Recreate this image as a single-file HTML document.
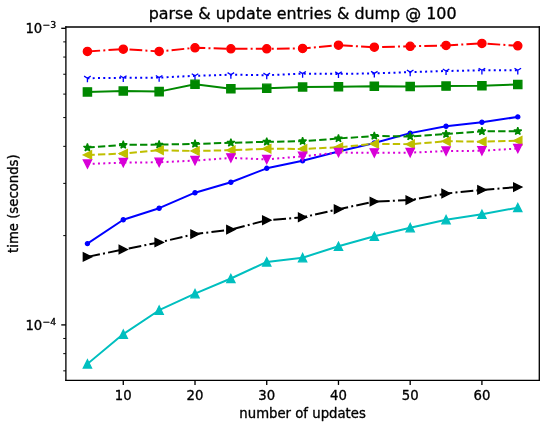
<!DOCTYPE html>
<html><head><meta charset="utf-8"><title>parse &amp; update entries &amp; dump @ 100</title>
<style>html,body{margin:0;padding:0;background:#fff;width:550px;height:429px;overflow:hidden}
svg text{stroke:#000;stroke-width:.25px;stroke-linejoin:round}</style>
</head><body>
<svg width="550" height="429" viewBox="0 0 414.66 323.43" style="display:block;stroke-linejoin:round;stroke-linecap:butt">
<g id="figure_1">
<g id="patch_1">
<path d="M 0 323.43
L 414.66 323.43
L 414.66 0
L 0 0
z
" style="fill: #ffffff"/>
</g>
<g id="axes_1">
<g id="patch_2">
<path d="M 49.68 286.72
L 406.59 286.72
L 406.59 20.36
L 49.68 20.36
z
" style="fill: #ffffff"/>
</g>
<g id="matplotlib.axis_1">
<g id="xtick_1">
<g id="line2d_1">
<g>
<path d="M 0 0 L 0 3.5" transform="translate(92.94 286.72)" style="stroke: #000000"/>
</g>
</g>
<g id="text_1">
<text style="font-size: 10px; font-family: 'DejaVu Sans', 'Liberation Sans', sans-serif; text-anchor: middle" x="92.95" y="301.82" transform="rotate(-0 92.95 301.82)">10</text>
</g>
</g>
<g id="xtick_2">
<g id="line2d_2">
<g>
<path d="M 0 0 L 0 3.5" transform="translate(147.02 286.72)" style="stroke: #000000"/>
</g>
</g>
<g id="text_2">
<text style="font-size: 10px; font-family: 'DejaVu Sans', 'Liberation Sans', sans-serif; text-anchor: middle" x="147.02" y="301.82" transform="rotate(-0 147.02 301.82)">20</text>
</g>
</g>
<g id="xtick_3">
<g id="line2d_3">
<g>
<path d="M 0 0 L 0 3.5" transform="translate(201.1 286.72)" style="stroke: #000000"/>
</g>
</g>
<g id="text_3">
<text style="font-size: 10px; font-family: 'DejaVu Sans', 'Liberation Sans', sans-serif; text-anchor: middle" x="201.1" y="301.82" transform="rotate(-0 201.1 301.82)">30</text>
</g>
</g>
<g id="xtick_4">
<g id="line2d_4">
<g>
<path d="M 0 0 L 0 3.5" transform="translate(255.18 286.72)" style="stroke: #000000"/>
</g>
</g>
<g id="text_4">
<text style="font-size: 10px; font-family: 'DejaVu Sans', 'Liberation Sans', sans-serif; text-anchor: middle" x="255.18" y="301.82" transform="rotate(-0 255.18 301.82)">40</text>
</g>
</g>
<g id="xtick_5">
<g id="line2d_5">
<g>
<path d="M 0 0 L 0 3.5" transform="translate(309.25 286.72)" style="stroke: #000000"/>
</g>
</g>
<g id="text_5">
<text style="font-size: 10px; font-family: 'DejaVu Sans', 'Liberation Sans', sans-serif; text-anchor: middle" x="309.25" y="301.82" transform="rotate(-0 309.25 301.82)">50</text>
</g>
</g>
<g id="xtick_6">
<g id="line2d_6">
<g>
<path d="M 0 0 L 0 3.5" transform="translate(363.33 286.72)" style="stroke: #000000"/>
</g>
</g>
<g id="text_6">
<text style="font-size: 10px; font-family: 'DejaVu Sans', 'Liberation Sans', sans-serif; text-anchor: middle" x="363.33" y="301.82" transform="rotate(-0 363.33 301.82)">60</text>
</g>
</g>
<g id="text_7">
<text style="font-size: 10px; font-family: 'DejaVu Sans', 'Liberation Sans', sans-serif; text-anchor: middle" x="228.14" y="315.49" transform="rotate(-0 228.14 315.49)">number of updates</text>
</g>
</g>
<g id="matplotlib.axis_2">
<g id="ytick_1">
<g id="line2d_7">
<g>
<path d="M 0 0 L -3.5 0" transform="translate(49.68 244.95)" style="stroke: #000000"/>
</g>
</g>
<g id="text_8">
<!-- $\mathdefault{10^{-4}}$ -->
<g transform="translate(19.18 248.75)">
<text>
<tspan x="0" y="-0.06" style="font-size: 10px; font-family: 'DejaVu Sans', 'Liberation Sans', sans-serif">1</tspan>
<tspan x="6.36" y="-0.06" style="font-size: 10px; font-family: 'DejaVu Sans', 'Liberation Sans', sans-serif">0</tspan>
<tspan x="12.82" y="-3.89" style="font-size: 7px; font-family: 'DejaVu Sans', 'Liberation Sans', sans-serif">−</tspan>
<tspan x="18.69" y="-3.89" style="font-size: 7px; font-family: 'DejaVu Sans', 'Liberation Sans', sans-serif">4</tspan>
</text>
</g>
</g>
</g>
<g id="ytick_2">
<g id="line2d_8">
<g>
<path d="M 0 0 L -3.5 0" transform="translate(49.68 21.34)" style="stroke: #000000"/>
</g>
</g>
<g id="text_9">
<!-- $\mathdefault{10^{-3}}$ -->
<g transform="translate(19.18 25.14)">
<text>
<tspan x="0" y="-0.06" style="font-size: 10px; font-family: 'DejaVu Sans', 'Liberation Sans', sans-serif">1</tspan>
<tspan x="6.36" y="-0.06" style="font-size: 10px; font-family: 'DejaVu Sans', 'Liberation Sans', sans-serif">0</tspan>
<tspan x="12.82" y="-3.89" style="font-size: 7px; font-family: 'DejaVu Sans', 'Liberation Sans', sans-serif">−</tspan>
<tspan x="18.69" y="-3.89" style="font-size: 7px; font-family: 'DejaVu Sans', 'Liberation Sans', sans-serif">3</tspan>
</text>
</g>
</g>
</g>
<g id="ytick_3">
<g id="line2d_9">
<g>
<path d="M 0 0 L -2 0" transform="translate(49.68 279.59)" style="stroke: #000000; stroke-width: 0.75"/>
</g>
</g>
</g>
<g id="ytick_4">
<g id="line2d_10">
<g>
<path d="M 0 0 L -2 0" transform="translate(49.68 266.62)" style="stroke: #000000; stroke-width: 0.75"/>
</g>
</g>
</g>
<g id="ytick_5">
<g id="line2d_11">
<g>
<path d="M 0 0 L -2 0" transform="translate(49.68 255.18)" style="stroke: #000000; stroke-width: 0.75"/>
</g>
</g>
</g>
<g id="ytick_6">
<g id="line2d_12">
<g>
<path d="M 0 0 L -2 0" transform="translate(49.68 177.64)" style="stroke: #000000; stroke-width: 0.75"/>
</g>
</g>
</g>
<g id="ytick_7">
<g id="line2d_13">
<g>
<path d="M 0 0 L -2 0" transform="translate(49.68 138.26)" style="stroke: #000000; stroke-width: 0.75"/>
</g>
</g>
</g>
<g id="ytick_8">
<g id="line2d_14">
<g>
<path d="M 0 0 L -2 0" transform="translate(49.68 110.32)" style="stroke: #000000; stroke-width: 0.75"/>
</g>
</g>
</g>
<g id="ytick_9">
<g id="line2d_15">
<g>
<path d="M 0 0 L -2 0" transform="translate(49.68 88.65)" style="stroke: #000000; stroke-width: 0.75"/>
</g>
</g>
</g>
<g id="ytick_10">
<g id="line2d_16">
<g>
<path d="M 0 0 L -2 0" transform="translate(49.68 70.94)" style="stroke: #000000; stroke-width: 0.75"/>
</g>
</g>
</g>
<g id="ytick_11">
<g id="line2d_17">
<g>
<path d="M 0 0 L -2 0" transform="translate(49.68 55.97)" style="stroke: #000000; stroke-width: 0.75"/>
</g>
</g>
</g>
<g id="ytick_12">
<g id="line2d_18">
<g>
<path d="M 0 0 L -2 0" transform="translate(49.68 43.01)" style="stroke: #000000; stroke-width: 0.75"/>
</g>
</g>
</g>
<g id="ytick_13">
<g id="line2d_19">
<g>
<path d="M 0 0 L -2 0" transform="translate(49.68 31.57)" style="stroke: #000000; stroke-width: 0.75"/>
</g>
</g>
</g>
<g id="text_10">
<text style="font-size: 10px; font-family: 'DejaVu Sans', 'Liberation Sans', sans-serif; text-anchor: middle" x="13.3" y="153.54" transform="rotate(-90 13.3 153.54)">time (seconds)</text>
</g>
</g>
<g id="line2d_20">
<path d="M 65.91 183.66
L 92.95 165.64
L 119.98 156.97
L 147.02 145.28
L 174.06 137.37
L 201.1 126.89
L 228.14 121.23
L 255.18 114.22
L 282.22 107.81
L 309.25 100.35
L 336.29 95.22
L 363.33 92.21
L 390.37 88.13
" clip-path="url(#p1bebfb066a)" style="fill: none; stroke: #0000ff; stroke-width: 1.5; stroke-linecap: square"/>
<g clip-path="url(#p1bebfb066a)">
<path d="M 0 1.55 C 0.41 1.55 0.81 1.39 1.1 1.1 C 1.39 0.81 1.55 0.41 1.55 0 C 1.55 -0.41 1.39 -0.81 1.1 -1.1 C 0.81 -1.39 0.41 -1.55 0 -1.55 C -0.41 -1.55 -0.81 -1.39 -1.1 -1.1 C -1.39 -0.81 -1.55 -0.41 -1.55 0 C -1.55 0.41 -1.39 0.81 -1.1 1.1 C -0.81 1.39 -0.41 1.55 0 1.55 z" transform="translate(65.91 183.66)" style="fill: #0000ff; stroke: #0000ff"/>
<path d="M 0 1.55 C 0.41 1.55 0.81 1.39 1.1 1.1 C 1.39 0.81 1.55 0.41 1.55 0 C 1.55 -0.41 1.39 -0.81 1.1 -1.1 C 0.81 -1.39 0.41 -1.55 0 -1.55 C -0.41 -1.55 -0.81 -1.39 -1.1 -1.1 C -1.39 -0.81 -1.55 -0.41 -1.55 0 C -1.55 0.41 -1.39 0.81 -1.1 1.1 C -0.81 1.39 -0.41 1.55 0 1.55 z" transform="translate(92.94 165.64)" style="fill: #0000ff; stroke: #0000ff"/>
<path d="M 0 1.55 C 0.41 1.55 0.81 1.39 1.1 1.1 C 1.39 0.81 1.55 0.41 1.55 0 C 1.55 -0.41 1.39 -0.81 1.1 -1.1 C 0.81 -1.39 0.41 -1.55 0 -1.55 C -0.41 -1.55 -0.81 -1.39 -1.1 -1.1 C -1.39 -0.81 -1.55 -0.41 -1.55 0 C -1.55 0.41 -1.39 0.81 -1.1 1.1 C -0.81 1.39 -0.41 1.55 0 1.55 z" transform="translate(119.98 156.97)" style="fill: #0000ff; stroke: #0000ff"/>
<path d="M 0 1.55 C 0.41 1.55 0.81 1.39 1.1 1.1 C 1.39 0.81 1.55 0.41 1.55 0 C 1.55 -0.41 1.39 -0.81 1.1 -1.1 C 0.81 -1.39 0.41 -1.55 0 -1.55 C -0.41 -1.55 -0.81 -1.39 -1.1 -1.1 C -1.39 -0.81 -1.55 -0.41 -1.55 0 C -1.55 0.41 -1.39 0.81 -1.1 1.1 C -0.81 1.39 -0.41 1.55 0 1.55 z" transform="translate(147.02 145.28)" style="fill: #0000ff; stroke: #0000ff"/>
<path d="M 0 1.55 C 0.41 1.55 0.81 1.39 1.1 1.1 C 1.39 0.81 1.55 0.41 1.55 0 C 1.55 -0.41 1.39 -0.81 1.1 -1.1 C 0.81 -1.39 0.41 -1.55 0 -1.55 C -0.41 -1.55 -0.81 -1.39 -1.1 -1.1 C -1.39 -0.81 -1.55 -0.41 -1.55 0 C -1.55 0.41 -1.39 0.81 -1.1 1.1 C -0.81 1.39 -0.41 1.55 0 1.55 z" transform="translate(174.06 137.37)" style="fill: #0000ff; stroke: #0000ff"/>
<path d="M 0 1.55 C 0.41 1.55 0.81 1.39 1.1 1.1 C 1.39 0.81 1.55 0.41 1.55 0 C 1.55 -0.41 1.39 -0.81 1.1 -1.1 C 0.81 -1.39 0.41 -1.55 0 -1.55 C -0.41 -1.55 -0.81 -1.39 -1.1 -1.1 C -1.39 -0.81 -1.55 -0.41 -1.55 0 C -1.55 0.41 -1.39 0.81 -1.1 1.1 C -0.81 1.39 -0.41 1.55 0 1.55 z" transform="translate(201.1 126.89)" style="fill: #0000ff; stroke: #0000ff"/>
<path d="M 0 1.55 C 0.41 1.55 0.81 1.39 1.1 1.1 C 1.39 0.81 1.55 0.41 1.55 0 C 1.55 -0.41 1.39 -0.81 1.1 -1.1 C 0.81 -1.39 0.41 -1.55 0 -1.55 C -0.41 -1.55 -0.81 -1.39 -1.1 -1.1 C -1.39 -0.81 -1.55 -0.41 -1.55 0 C -1.55 0.41 -1.39 0.81 -1.1 1.1 C -0.81 1.39 -0.41 1.55 0 1.55 z" transform="translate(228.14 121.23)" style="fill: #0000ff; stroke: #0000ff"/>
<path d="M 0 1.55 C 0.41 1.55 0.81 1.39 1.1 1.1 C 1.39 0.81 1.55 0.41 1.55 0 C 1.55 -0.41 1.39 -0.81 1.1 -1.1 C 0.81 -1.39 0.41 -1.55 0 -1.55 C -0.41 -1.55 -0.81 -1.39 -1.1 -1.1 C -1.39 -0.81 -1.55 -0.41 -1.55 0 C -1.55 0.41 -1.39 0.81 -1.1 1.1 C -0.81 1.39 -0.41 1.55 0 1.55 z" transform="translate(255.18 114.22)" style="fill: #0000ff; stroke: #0000ff"/>
<path d="M 0 1.55 C 0.41 1.55 0.81 1.39 1.1 1.1 C 1.39 0.81 1.55 0.41 1.55 0 C 1.55 -0.41 1.39 -0.81 1.1 -1.1 C 0.81 -1.39 0.41 -1.55 0 -1.55 C -0.41 -1.55 -0.81 -1.39 -1.1 -1.1 C -1.39 -0.81 -1.55 -0.41 -1.55 0 C -1.55 0.41 -1.39 0.81 -1.1 1.1 C -0.81 1.39 -0.41 1.55 0 1.55 z" transform="translate(282.21 107.81)" style="fill: #0000ff; stroke: #0000ff"/>
<path d="M 0 1.55 C 0.41 1.55 0.81 1.39 1.1 1.1 C 1.39 0.81 1.55 0.41 1.55 0 C 1.55 -0.41 1.39 -0.81 1.1 -1.1 C 0.81 -1.39 0.41 -1.55 0 -1.55 C -0.41 -1.55 -0.81 -1.39 -1.1 -1.1 C -1.39 -0.81 -1.55 -0.41 -1.55 0 C -1.55 0.41 -1.39 0.81 -1.1 1.1 C -0.81 1.39 -0.41 1.55 0 1.55 z" transform="translate(309.25 100.35)" style="fill: #0000ff; stroke: #0000ff"/>
<path d="M 0 1.55 C 0.41 1.55 0.81 1.39 1.1 1.1 C 1.39 0.81 1.55 0.41 1.55 0 C 1.55 -0.41 1.39 -0.81 1.1 -1.1 C 0.81 -1.39 0.41 -1.55 0 -1.55 C -0.41 -1.55 -0.81 -1.39 -1.1 -1.1 C -1.39 -0.81 -1.55 -0.41 -1.55 0 C -1.55 0.41 -1.39 0.81 -1.1 1.1 C -0.81 1.39 -0.41 1.55 0 1.55 z" transform="translate(336.29 95.22)" style="fill: #0000ff; stroke: #0000ff"/>
<path d="M 0 1.55 C 0.41 1.55 0.81 1.39 1.1 1.1 C 1.39 0.81 1.55 0.41 1.55 0 C 1.55 -0.41 1.39 -0.81 1.1 -1.1 C 0.81 -1.39 0.41 -1.55 0 -1.55 C -0.41 -1.55 -0.81 -1.39 -1.1 -1.1 C -1.39 -0.81 -1.55 -0.41 -1.55 0 C -1.55 0.41 -1.39 0.81 -1.1 1.1 C -0.81 1.39 -0.41 1.55 0 1.55 z" transform="translate(363.33 92.2)" style="fill: #0000ff; stroke: #0000ff"/>
<path d="M 0 1.55 C 0.41 1.55 0.81 1.39 1.1 1.1 C 1.39 0.81 1.55 0.41 1.55 0 C 1.55 -0.41 1.39 -0.81 1.1 -1.1 C 0.81 -1.39 0.41 -1.55 0 -1.55 C -0.41 -1.55 -0.81 -1.39 -1.1 -1.1 C -1.39 -0.81 -1.55 -0.41 -1.55 0 C -1.55 0.41 -1.39 0.81 -1.1 1.1 C -0.81 1.39 -0.41 1.55 0 1.55 z" transform="translate(390.37 88.13)" style="fill: #0000ff; stroke: #0000ff"/>
</g>
</g>
<g id="line2d_21">
<path d="M 65.91 38.75
L 92.95 37.09
L 119.98 38.75
L 147.02 36.04
L 174.06 36.79
L 201.1 36.79
L 228.14 36.57
L 255.18 34.08
L 282.22 35.59
L 309.25 34.91
L 336.29 34.3
L 363.33 32.72
L 390.37 34.53
" clip-path="url(#p1bebfb066a)" style="fill: none; stroke-dasharray: 9.6,2.4,1.5,2.4; stroke-dashoffset: 0; stroke: #ff0000; stroke-width: 1.5"/>
<g clip-path="url(#p1bebfb066a)">
<path d="M 0 3.1 C 0.82 3.1 1.61 2.77 2.19 2.19 C 2.77 1.61 3.1 0.82 3.1 0 C 3.1 -0.82 2.77 -1.61 2.19 -2.19 C 1.61 -2.77 0.82 -3.1 0 -3.1 C -0.82 -3.1 -1.61 -2.77 -2.19 -2.19 C -2.77 -1.61 -3.1 -0.82 -3.1 0 C -3.1 0.82 -2.77 1.61 -2.19 2.19 C -1.61 2.77 -0.82 3.1 0 3.1 z" transform="translate(65.91 38.75)" style="fill: #ff0000; stroke: #ff0000"/>
<path d="M 0 3.1 C 0.82 3.1 1.61 2.77 2.19 2.19 C 2.77 1.61 3.1 0.82 3.1 0 C 3.1 -0.82 2.77 -1.61 2.19 -2.19 C 1.61 -2.77 0.82 -3.1 0 -3.1 C -0.82 -3.1 -1.61 -2.77 -2.19 -2.19 C -2.77 -1.61 -3.1 -0.82 -3.1 0 C -3.1 0.82 -2.77 1.61 -2.19 2.19 C -1.61 2.77 -0.82 3.1 0 3.1 z" transform="translate(92.94 37.09)" style="fill: #ff0000; stroke: #ff0000"/>
<path d="M 0 3.1 C 0.82 3.1 1.61 2.77 2.19 2.19 C 2.77 1.61 3.1 0.82 3.1 0 C 3.1 -0.82 2.77 -1.61 2.19 -2.19 C 1.61 -2.77 0.82 -3.1 0 -3.1 C -0.82 -3.1 -1.61 -2.77 -2.19 -2.19 C -2.77 -1.61 -3.1 -0.82 -3.1 0 C -3.1 0.82 -2.77 1.61 -2.19 2.19 C -1.61 2.77 -0.82 3.1 0 3.1 z" transform="translate(119.98 38.75)" style="fill: #ff0000; stroke: #ff0000"/>
<path d="M 0 3.1 C 0.82 3.1 1.61 2.77 2.19 2.19 C 2.77 1.61 3.1 0.82 3.1 0 C 3.1 -0.82 2.77 -1.61 2.19 -2.19 C 1.61 -2.77 0.82 -3.1 0 -3.1 C -0.82 -3.1 -1.61 -2.77 -2.19 -2.19 C -2.77 -1.61 -3.1 -0.82 -3.1 0 C -3.1 0.82 -2.77 1.61 -2.19 2.19 C -1.61 2.77 -0.82 3.1 0 3.1 z" transform="translate(147.02 36.04)" style="fill: #ff0000; stroke: #ff0000"/>
<path d="M 0 3.1 C 0.82 3.1 1.61 2.77 2.19 2.19 C 2.77 1.61 3.1 0.82 3.1 0 C 3.1 -0.82 2.77 -1.61 2.19 -2.19 C 1.61 -2.77 0.82 -3.1 0 -3.1 C -0.82 -3.1 -1.61 -2.77 -2.19 -2.19 C -2.77 -1.61 -3.1 -0.82 -3.1 0 C -3.1 0.82 -2.77 1.61 -2.19 2.19 C -1.61 2.77 -0.82 3.1 0 3.1 z" transform="translate(174.06 36.79)" style="fill: #ff0000; stroke: #ff0000"/>
<path d="M 0 3.1 C 0.82 3.1 1.61 2.77 2.19 2.19 C 2.77 1.61 3.1 0.82 3.1 0 C 3.1 -0.82 2.77 -1.61 2.19 -2.19 C 1.61 -2.77 0.82 -3.1 0 -3.1 C -0.82 -3.1 -1.61 -2.77 -2.19 -2.19 C -2.77 -1.61 -3.1 -0.82 -3.1 0 C -3.1 0.82 -2.77 1.61 -2.19 2.19 C -1.61 2.77 -0.82 3.1 0 3.1 z" transform="translate(201.1 36.79)" style="fill: #ff0000; stroke: #ff0000"/>
<path d="M 0 3.1 C 0.82 3.1 1.61 2.77 2.19 2.19 C 2.77 1.61 3.1 0.82 3.1 0 C 3.1 -0.82 2.77 -1.61 2.19 -2.19 C 1.61 -2.77 0.82 -3.1 0 -3.1 C -0.82 -3.1 -1.61 -2.77 -2.19 -2.19 C -2.77 -1.61 -3.1 -0.82 -3.1 0 C -3.1 0.82 -2.77 1.61 -2.19 2.19 C -1.61 2.77 -0.82 3.1 0 3.1 z" transform="translate(228.14 36.56)" style="fill: #ff0000; stroke: #ff0000"/>
<path d="M 0 3.1 C 0.82 3.1 1.61 2.77 2.19 2.19 C 2.77 1.61 3.1 0.82 3.1 0 C 3.1 -0.82 2.77 -1.61 2.19 -2.19 C 1.61 -2.77 0.82 -3.1 0 -3.1 C -0.82 -3.1 -1.61 -2.77 -2.19 -2.19 C -2.77 -1.61 -3.1 -0.82 -3.1 0 C -3.1 0.82 -2.77 1.61 -2.19 2.19 C -1.61 2.77 -0.82 3.1 0 3.1 z" transform="translate(255.18 34.08)" style="fill: #ff0000; stroke: #ff0000"/>
<path d="M 0 3.1 C 0.82 3.1 1.61 2.77 2.19 2.19 C 2.77 1.61 3.1 0.82 3.1 0 C 3.1 -0.82 2.77 -1.61 2.19 -2.19 C 1.61 -2.77 0.82 -3.1 0 -3.1 C -0.82 -3.1 -1.61 -2.77 -2.19 -2.19 C -2.77 -1.61 -3.1 -0.82 -3.1 0 C -3.1 0.82 -2.77 1.61 -2.19 2.19 C -1.61 2.77 -0.82 3.1 0 3.1 z" transform="translate(282.21 35.59)" style="fill: #ff0000; stroke: #ff0000"/>
<path d="M 0 3.1 C 0.82 3.1 1.61 2.77 2.19 2.19 C 2.77 1.61 3.1 0.82 3.1 0 C 3.1 -0.82 2.77 -1.61 2.19 -2.19 C 1.61 -2.77 0.82 -3.1 0 -3.1 C -0.82 -3.1 -1.61 -2.77 -2.19 -2.19 C -2.77 -1.61 -3.1 -0.82 -3.1 0 C -3.1 0.82 -2.77 1.61 -2.19 2.19 C -1.61 2.77 -0.82 3.1 0 3.1 z" transform="translate(309.25 34.91)" style="fill: #ff0000; stroke: #ff0000"/>
<path d="M 0 3.1 C 0.82 3.1 1.61 2.77 2.19 2.19 C 2.77 1.61 3.1 0.82 3.1 0 C 3.1 -0.82 2.77 -1.61 2.19 -2.19 C 1.61 -2.77 0.82 -3.1 0 -3.1 C -0.82 -3.1 -1.61 -2.77 -2.19 -2.19 C -2.77 -1.61 -3.1 -0.82 -3.1 0 C -3.1 0.82 -2.77 1.61 -2.19 2.19 C -1.61 2.77 -0.82 3.1 0 3.1 z" transform="translate(336.29 34.3)" style="fill: #ff0000; stroke: #ff0000"/>
<path d="M 0 3.1 C 0.82 3.1 1.61 2.77 2.19 2.19 C 2.77 1.61 3.1 0.82 3.1 0 C 3.1 -0.82 2.77 -1.61 2.19 -2.19 C 1.61 -2.77 0.82 -3.1 0 -3.1 C -0.82 -3.1 -1.61 -2.77 -2.19 -2.19 C -2.77 -1.61 -3.1 -0.82 -3.1 0 C -3.1 0.82 -2.77 1.61 -2.19 2.19 C -1.61 2.77 -0.82 3.1 0 3.1 z" transform="translate(363.33 32.72)" style="fill: #ff0000; stroke: #ff0000"/>
<path d="M 0 3.1 C 0.82 3.1 1.61 2.77 2.19 2.19 C 2.77 1.61 3.1 0.82 3.1 0 C 3.1 -0.82 2.77 -1.61 2.19 -2.19 C 1.61 -2.77 0.82 -3.1 0 -3.1 C -0.82 -3.1 -1.61 -2.77 -2.19 -2.19 C -2.77 -1.61 -3.1 -0.82 -3.1 0 C -3.1 0.82 -2.77 1.61 -2.19 2.19 C -1.61 2.77 -0.82 3.1 0 3.1 z" transform="translate(390.37 34.53)" style="fill: #ff0000; stroke: #ff0000"/>
</g>
</g>
<g id="line2d_22">
<path d="M 65.91 58.96
L 92.95 58.66
L 119.98 58.5
L 147.02 57.15
L 174.06 56.32
L 201.1 56.7
L 228.14 55.49
L 255.18 55.72
L 282.22 55.34
L 309.25 54.36
L 336.29 53.53
L 363.33 53
L 390.37 53
" clip-path="url(#p1bebfb066a)" style="fill: none; stroke-dasharray: 1.5,2.48; stroke-dashoffset: 0; stroke: #0000ff; stroke-width: 1.5"/>
<g clip-path="url(#p1bebfb066a)">
<path d="M 0 0 L 0 3.1 M 0 0 L 2.48 -1.55 M 0 0 L -2.48 -1.55" transform="translate(65.91 58.96)" style="fill: #0000ff; stroke: #0000ff"/>
<path d="M 0 0 L 0 3.1 M 0 0 L 2.48 -1.55 M 0 0 L -2.48 -1.55" transform="translate(92.94 58.66)" style="fill: #0000ff; stroke: #0000ff"/>
<path d="M 0 0 L 0 3.1 M 0 0 L 2.48 -1.55 M 0 0 L -2.48 -1.55" transform="translate(119.98 58.51)" style="fill: #0000ff; stroke: #0000ff"/>
<path d="M 0 0 L 0 3.1 M 0 0 L 2.48 -1.55 M 0 0 L -2.48 -1.55" transform="translate(147.02 57.15)" style="fill: #0000ff; stroke: #0000ff"/>
<path d="M 0 0 L 0 3.1 M 0 0 L 2.48 -1.55 M 0 0 L -2.48 -1.55" transform="translate(174.06 56.32)" style="fill: #0000ff; stroke: #0000ff"/>
<path d="M 0 0 L 0 3.1 M 0 0 L 2.48 -1.55 M 0 0 L -2.48 -1.55" transform="translate(201.1 56.7)" style="fill: #0000ff; stroke: #0000ff"/>
<path d="M 0 0 L 0 3.1 M 0 0 L 2.48 -1.55 M 0 0 L -2.48 -1.55" transform="translate(228.14 55.49)" style="fill: #0000ff; stroke: #0000ff"/>
<path d="M 0 0 L 0 3.1 M 0 0 L 2.48 -1.55 M 0 0 L -2.48 -1.55" transform="translate(255.18 55.72)" style="fill: #0000ff; stroke: #0000ff"/>
<path d="M 0 0 L 0 3.1 M 0 0 L 2.48 -1.55 M 0 0 L -2.48 -1.55" transform="translate(282.21 55.34)" style="fill: #0000ff; stroke: #0000ff"/>
<path d="M 0 0 L 0 3.1 M 0 0 L 2.48 -1.55 M 0 0 L -2.48 -1.55" transform="translate(309.25 54.36)" style="fill: #0000ff; stroke: #0000ff"/>
<path d="M 0 0 L 0 3.1 M 0 0 L 2.48 -1.55 M 0 0 L -2.48 -1.55" transform="translate(336.29 53.53)" style="fill: #0000ff; stroke: #0000ff"/>
<path d="M 0 0 L 0 3.1 M 0 0 L 2.48 -1.55 M 0 0 L -2.48 -1.55" transform="translate(363.33 53)" style="fill: #0000ff; stroke: #0000ff"/>
<path d="M 0 0 L 0 3.1 M 0 0 L 2.48 -1.55 M 0 0 L -2.48 -1.55" transform="translate(390.37 53)" style="fill: #0000ff; stroke: #0000ff"/>
</g>
</g>
<g id="line2d_23">
<path d="M 65.91 69.29
L 92.95 68.61
L 119.98 69.06
L 147.02 63.56
L 174.06 66.95
L 201.1 66.57
L 228.14 65.59
L 255.18 65.44
L 282.22 64.99
L 309.25 65.21
L 336.29 64.91
L 363.33 64.69
L 390.37 63.71
" clip-path="url(#p1bebfb066a)" style="fill: none; stroke: #008800; stroke-width: 1.5; stroke-linecap: square"/>
<g clip-path="url(#p1bebfb066a)">
<path d="M -3.1 3.1 L 3.1 3.1 L 3.1 -3.1 L -3.1 -3.1 z" transform="translate(65.91 69.29)" style="fill: #008800; stroke: #008800; stroke-linejoin: miter"/>
<path d="M -3.1 3.1 L 3.1 3.1 L 3.1 -3.1 L -3.1 -3.1 z" transform="translate(92.94 68.61)" style="fill: #008800; stroke: #008800; stroke-linejoin: miter"/>
<path d="M -3.1 3.1 L 3.1 3.1 L 3.1 -3.1 L -3.1 -3.1 z" transform="translate(119.98 69.06)" style="fill: #008800; stroke: #008800; stroke-linejoin: miter"/>
<path d="M -3.1 3.1 L 3.1 3.1 L 3.1 -3.1 L -3.1 -3.1 z" transform="translate(147.02 63.56)" style="fill: #008800; stroke: #008800; stroke-linejoin: miter"/>
<path d="M -3.1 3.1 L 3.1 3.1 L 3.1 -3.1 L -3.1 -3.1 z" transform="translate(174.06 66.95)" style="fill: #008800; stroke: #008800; stroke-linejoin: miter"/>
<path d="M -3.1 3.1 L 3.1 3.1 L 3.1 -3.1 L -3.1 -3.1 z" transform="translate(201.1 66.57)" style="fill: #008800; stroke: #008800; stroke-linejoin: miter"/>
<path d="M -3.1 3.1 L 3.1 3.1 L 3.1 -3.1 L -3.1 -3.1 z" transform="translate(228.14 65.59)" style="fill: #008800; stroke: #008800; stroke-linejoin: miter"/>
<path d="M -3.1 3.1 L 3.1 3.1 L 3.1 -3.1 L -3.1 -3.1 z" transform="translate(255.18 65.44)" style="fill: #008800; stroke: #008800; stroke-linejoin: miter"/>
<path d="M -3.1 3.1 L 3.1 3.1 L 3.1 -3.1 L -3.1 -3.1 z" transform="translate(282.21 64.99)" style="fill: #008800; stroke: #008800; stroke-linejoin: miter"/>
<path d="M -3.1 3.1 L 3.1 3.1 L 3.1 -3.1 L -3.1 -3.1 z" transform="translate(309.25 65.22)" style="fill: #008800; stroke: #008800; stroke-linejoin: miter"/>
<path d="M -3.1 3.1 L 3.1 3.1 L 3.1 -3.1 L -3.1 -3.1 z" transform="translate(336.29 64.91)" style="fill: #008800; stroke: #008800; stroke-linejoin: miter"/>
<path d="M -3.1 3.1 L 3.1 3.1 L 3.1 -3.1 L -3.1 -3.1 z" transform="translate(363.33 64.69)" style="fill: #008800; stroke: #008800; stroke-linejoin: miter"/>
<path d="M -3.1 3.1 L 3.1 3.1 L 3.1 -3.1 L -3.1 -3.1 z" transform="translate(390.37 63.71)" style="fill: #008800; stroke: #008800; stroke-linejoin: miter"/>
</g>
</g>
<g id="line2d_24">
<path d="M 65.91 111.28
L 92.95 109.24
L 119.98 109.02
L 147.02 108.49
L 174.06 107.66
L 201.1 106.91
L 228.14 106.45
L 255.18 104.42
L 282.22 102.53
L 309.25 102.91
L 336.29 101.1
L 363.33 98.99
L 390.37 98.92
" clip-path="url(#p1bebfb066a)" style="fill: none; stroke-dasharray: 5.55,2.4; stroke-dashoffset: 0; stroke: #008800; stroke-width: 1.5"/>
<g clip-path="url(#p1bebfb066a)">
<path d="M 0 -3.1 L -0.7 -0.96 L -2.95 -0.96 L -1.13 0.37 L -1.82 2.51 L -0 1.18 L 1.82 2.51 L 1.13 0.37 L 2.95 -0.96 L 0.7 -0.96 z" transform="translate(65.91 111.28)" style="fill: #008800; stroke: #008800; stroke-linejoin: bevel"/>
<path d="M 0 -3.1 L -0.7 -0.96 L -2.95 -0.96 L -1.13 0.37 L -1.82 2.51 L -0 1.18 L 1.82 2.51 L 1.13 0.37 L 2.95 -0.96 L 0.7 -0.96 z" transform="translate(92.94 109.24)" style="fill: #008800; stroke: #008800; stroke-linejoin: bevel"/>
<path d="M 0 -3.1 L -0.7 -0.96 L -2.95 -0.96 L -1.13 0.37 L -1.82 2.51 L -0 1.18 L 1.82 2.51 L 1.13 0.37 L 2.95 -0.96 L 0.7 -0.96 z" transform="translate(119.98 109.02)" style="fill: #008800; stroke: #008800; stroke-linejoin: bevel"/>
<path d="M 0 -3.1 L -0.7 -0.96 L -2.95 -0.96 L -1.13 0.37 L -1.82 2.51 L -0 1.18 L 1.82 2.51 L 1.13 0.37 L 2.95 -0.96 L 0.7 -0.96 z" transform="translate(147.02 108.49)" style="fill: #008800; stroke: #008800; stroke-linejoin: bevel"/>
<path d="M 0 -3.1 L -0.7 -0.96 L -2.95 -0.96 L -1.13 0.37 L -1.82 2.51 L -0 1.18 L 1.82 2.51 L 1.13 0.37 L 2.95 -0.96 L 0.7 -0.96 z" transform="translate(174.06 107.66)" style="fill: #008800; stroke: #008800; stroke-linejoin: bevel"/>
<path d="M 0 -3.1 L -0.7 -0.96 L -2.95 -0.96 L -1.13 0.37 L -1.82 2.51 L -0 1.18 L 1.82 2.51 L 1.13 0.37 L 2.95 -0.96 L 0.7 -0.96 z" transform="translate(201.1 106.91)" style="fill: #008800; stroke: #008800; stroke-linejoin: bevel"/>
<path d="M 0 -3.1 L -0.7 -0.96 L -2.95 -0.96 L -1.13 0.37 L -1.82 2.51 L -0 1.18 L 1.82 2.51 L 1.13 0.37 L 2.95 -0.96 L 0.7 -0.96 z" transform="translate(228.14 106.45)" style="fill: #008800; stroke: #008800; stroke-linejoin: bevel"/>
<path d="M 0 -3.1 L -0.7 -0.96 L -2.95 -0.96 L -1.13 0.37 L -1.82 2.51 L -0 1.18 L 1.82 2.51 L 1.13 0.37 L 2.95 -0.96 L 0.7 -0.96 z" transform="translate(255.18 104.42)" style="fill: #008800; stroke: #008800; stroke-linejoin: bevel"/>
<path d="M 0 -3.1 L -0.7 -0.96 L -2.95 -0.96 L -1.13 0.37 L -1.82 2.51 L -0 1.18 L 1.82 2.51 L 1.13 0.37 L 2.95 -0.96 L 0.7 -0.96 z" transform="translate(282.21 102.53)" style="fill: #008800; stroke: #008800; stroke-linejoin: bevel"/>
<path d="M 0 -3.1 L -0.7 -0.96 L -2.95 -0.96 L -1.13 0.37 L -1.82 2.51 L -0 1.18 L 1.82 2.51 L 1.13 0.37 L 2.95 -0.96 L 0.7 -0.96 z" transform="translate(309.25 102.91)" style="fill: #008800; stroke: #008800; stroke-linejoin: bevel"/>
<path d="M 0 -3.1 L -0.7 -0.96 L -2.95 -0.96 L -1.13 0.37 L -1.82 2.51 L -0 1.18 L 1.82 2.51 L 1.13 0.37 L 2.95 -0.96 L 0.7 -0.96 z" transform="translate(336.29 101.1)" style="fill: #008800; stroke: #008800; stroke-linejoin: bevel"/>
<path d="M 0 -3.1 L -0.7 -0.96 L -2.95 -0.96 L -1.13 0.37 L -1.82 2.51 L -0 1.18 L 1.82 2.51 L 1.13 0.37 L 2.95 -0.96 L 0.7 -0.96 z" transform="translate(363.33 98.99)" style="fill: #008800; stroke: #008800; stroke-linejoin: bevel"/>
<path d="M 0 -3.1 L -0.7 -0.96 L -2.95 -0.96 L -1.13 0.37 L -1.82 2.51 L -0 1.18 L 1.82 2.51 L 1.13 0.37 L 2.95 -0.96 L 0.7 -0.96 z" transform="translate(390.37 98.92)" style="fill: #008800; stroke: #008800; stroke-linejoin: bevel"/>
</g>
</g>
<g id="line2d_25">
<path d="M 65.91 116.78
L 92.95 115.8
L 119.98 113.24
L 147.02 113.84
L 174.06 113.24
L 201.1 112.18
L 228.14 112.26
L 255.18 111.05
L 282.22 108.41
L 309.25 108.72
L 336.29 106.45
L 363.33 106.83
L 390.37 106.08
" clip-path="url(#p1bebfb066a)" style="fill: none; stroke-dasharray: 5.55,2.4; stroke-dashoffset: 0; stroke: #bfbf00; stroke-width: 1.5"/>
<g clip-path="url(#p1bebfb066a)">
<path d="M -3.1 -0 L 3.1 3.1 L 3.1 -3.1 z" transform="translate(65.91 116.78)" style="fill: #bfbf00; stroke: #bfbf00; stroke-linejoin: miter"/>
<path d="M -3.1 -0 L 3.1 3.1 L 3.1 -3.1 z" transform="translate(92.94 115.8)" style="fill: #bfbf00; stroke: #bfbf00; stroke-linejoin: miter"/>
<path d="M -3.1 -0 L 3.1 3.1 L 3.1 -3.1 z" transform="translate(119.98 113.24)" style="fill: #bfbf00; stroke: #bfbf00; stroke-linejoin: miter"/>
<path d="M -3.1 -0 L 3.1 3.1 L 3.1 -3.1 z" transform="translate(147.02 113.84)" style="fill: #bfbf00; stroke: #bfbf00; stroke-linejoin: miter"/>
<path d="M -3.1 -0 L 3.1 3.1 L 3.1 -3.1 z" transform="translate(174.06 113.24)" style="fill: #bfbf00; stroke: #bfbf00; stroke-linejoin: miter"/>
<path d="M -3.1 -0 L 3.1 3.1 L 3.1 -3.1 z" transform="translate(201.1 112.18)" style="fill: #bfbf00; stroke: #bfbf00; stroke-linejoin: miter"/>
<path d="M -3.1 -0 L 3.1 3.1 L 3.1 -3.1 z" transform="translate(228.14 112.26)" style="fill: #bfbf00; stroke: #bfbf00; stroke-linejoin: miter"/>
<path d="M -3.1 -0 L 3.1 3.1 L 3.1 -3.1 z" transform="translate(255.18 111.05)" style="fill: #bfbf00; stroke: #bfbf00; stroke-linejoin: miter"/>
<path d="M -3.1 -0 L 3.1 3.1 L 3.1 -3.1 z" transform="translate(282.21 108.42)" style="fill: #bfbf00; stroke: #bfbf00; stroke-linejoin: miter"/>
<path d="M -3.1 -0 L 3.1 3.1 L 3.1 -3.1 z" transform="translate(309.25 108.72)" style="fill: #bfbf00; stroke: #bfbf00; stroke-linejoin: miter"/>
<path d="M -3.1 -0 L 3.1 3.1 L 3.1 -3.1 z" transform="translate(336.29 106.45)" style="fill: #bfbf00; stroke: #bfbf00; stroke-linejoin: miter"/>
<path d="M -3.1 -0 L 3.1 3.1 L 3.1 -3.1 z" transform="translate(363.33 106.83)" style="fill: #bfbf00; stroke: #bfbf00; stroke-linejoin: miter"/>
<path d="M -3.1 -0 L 3.1 3.1 L 3.1 -3.1 z" transform="translate(390.37 106.08)" style="fill: #bfbf00; stroke: #bfbf00; stroke-linejoin: miter"/>
</g>
</g>
<g id="line2d_26">
<path d="M 65.91 123.64
L 92.95 122.59
L 119.98 122.36
L 147.02 121.08
L 174.06 119.05
L 201.1 120.18
L 228.14 117.84
L 255.18 114.97
L 282.22 115.28
L 309.25 115.05
L 336.29 113.92
L 363.33 113.69
L 390.37 111.96
" clip-path="url(#p1bebfb066a)" style="fill: none; stroke-dasharray: 1.5,2.48; stroke-dashoffset: 0; stroke: #d800d8; stroke-width: 1.5"/>
<g clip-path="url(#p1bebfb066a)">
<path d="M -0 3.1 L 3.1 -3.1 L -3.1 -3.1 z" transform="translate(65.91 123.64)" style="fill: #d800d8; stroke: #d800d8; stroke-linejoin: miter"/>
<path d="M -0 3.1 L 3.1 -3.1 L -3.1 -3.1 z" transform="translate(92.94 122.59)" style="fill: #d800d8; stroke: #d800d8; stroke-linejoin: miter"/>
<path d="M -0 3.1 L 3.1 -3.1 L -3.1 -3.1 z" transform="translate(119.98 122.36)" style="fill: #d800d8; stroke: #d800d8; stroke-linejoin: miter"/>
<path d="M -0 3.1 L 3.1 -3.1 L -3.1 -3.1 z" transform="translate(147.02 121.08)" style="fill: #d800d8; stroke: #d800d8; stroke-linejoin: miter"/>
<path d="M -0 3.1 L 3.1 -3.1 L -3.1 -3.1 z" transform="translate(174.06 119.05)" style="fill: #d800d8; stroke: #d800d8; stroke-linejoin: miter"/>
<path d="M -0 3.1 L 3.1 -3.1 L -3.1 -3.1 z" transform="translate(201.1 120.18)" style="fill: #d800d8; stroke: #d800d8; stroke-linejoin: miter"/>
<path d="M -0 3.1 L 3.1 -3.1 L -3.1 -3.1 z" transform="translate(228.14 117.84)" style="fill: #d800d8; stroke: #d800d8; stroke-linejoin: miter"/>
<path d="M -0 3.1 L 3.1 -3.1 L -3.1 -3.1 z" transform="translate(255.18 114.97)" style="fill: #d800d8; stroke: #d800d8; stroke-linejoin: miter"/>
<path d="M -0 3.1 L 3.1 -3.1 L -3.1 -3.1 z" transform="translate(282.21 115.28)" style="fill: #d800d8; stroke: #d800d8; stroke-linejoin: miter"/>
<path d="M -0 3.1 L 3.1 -3.1 L -3.1 -3.1 z" transform="translate(309.25 115.05)" style="fill: #d800d8; stroke: #d800d8; stroke-linejoin: miter"/>
<path d="M -0 3.1 L 3.1 -3.1 L -3.1 -3.1 z" transform="translate(336.29 113.92)" style="fill: #d800d8; stroke: #d800d8; stroke-linejoin: miter"/>
<path d="M -0 3.1 L 3.1 -3.1 L -3.1 -3.1 z" transform="translate(363.33 113.69)" style="fill: #d800d8; stroke: #d800d8; stroke-linejoin: miter"/>
<path d="M -0 3.1 L 3.1 -3.1 L -3.1 -3.1 z" transform="translate(390.37 111.96)" style="fill: #d800d8; stroke: #d800d8; stroke-linejoin: miter"/>
</g>
</g>
<g id="line2d_27">
<path d="M 65.91 193.68
L 92.95 188.1
L 119.98 182.75
L 147.02 176.49
L 174.06 173.1
L 201.1 166.01
L 228.14 163.83
L 255.18 157.72
L 282.22 151.99
L 309.25 150.86
L 336.29 145.88
L 363.33 143.17
L 390.37 141.06
" clip-path="url(#p1bebfb066a)" style="fill: none; stroke-dasharray: 9.6,2.4,1.5,2.4; stroke-dashoffset: 0; stroke: #000000; stroke-width: 1.5"/>
<g clip-path="url(#p1bebfb066a)">
<path d="M 3.1 0 L -3.1 -3.1 L -3.1 3.1 z" transform="translate(65.91 193.68)" style="stroke: #000000; stroke-linejoin: miter"/>
<path d="M 3.1 0 L -3.1 -3.1 L -3.1 3.1 z" transform="translate(92.94 188.1)" style="stroke: #000000; stroke-linejoin: miter"/>
<path d="M 3.1 0 L -3.1 -3.1 L -3.1 3.1 z" transform="translate(119.98 182.75)" style="stroke: #000000; stroke-linejoin: miter"/>
<path d="M 3.1 0 L -3.1 -3.1 L -3.1 3.1 z" transform="translate(147.02 176.49)" style="stroke: #000000; stroke-linejoin: miter"/>
<path d="M 3.1 0 L -3.1 -3.1 L -3.1 3.1 z" transform="translate(174.06 173.1)" style="stroke: #000000; stroke-linejoin: miter"/>
<path d="M 3.1 0 L -3.1 -3.1 L -3.1 3.1 z" transform="translate(201.1 166.01)" style="stroke: #000000; stroke-linejoin: miter"/>
<path d="M 3.1 0 L -3.1 -3.1 L -3.1 3.1 z" transform="translate(228.14 163.83)" style="stroke: #000000; stroke-linejoin: miter"/>
<path d="M 3.1 0 L -3.1 -3.1 L -3.1 3.1 z" transform="translate(255.18 157.72)" style="stroke: #000000; stroke-linejoin: miter"/>
<path d="M 3.1 0 L -3.1 -3.1 L -3.1 3.1 z" transform="translate(282.21 151.99)" style="stroke: #000000; stroke-linejoin: miter"/>
<path d="M 3.1 0 L -3.1 -3.1 L -3.1 3.1 z" transform="translate(309.25 150.86)" style="stroke: #000000; stroke-linejoin: miter"/>
<path d="M 3.1 0 L -3.1 -3.1 L -3.1 3.1 z" transform="translate(336.29 145.88)" style="stroke: #000000; stroke-linejoin: miter"/>
<path d="M 3.1 0 L -3.1 -3.1 L -3.1 3.1 z" transform="translate(363.33 143.17)" style="stroke: #000000; stroke-linejoin: miter"/>
<path d="M 3.1 0 L -3.1 -3.1 L -3.1 3.1 z" transform="translate(390.37 141.06)" style="stroke: #000000; stroke-linejoin: miter"/>
</g>
</g>
<g id="line2d_28">
<path d="M 65.91 274.35
L 92.95 251.89
L 119.98 233.87
L 147.02 221.43
L 174.06 209.97
L 201.1 197.45
L 228.14 194.29
L 255.18 185.69
L 282.22 178.15
L 309.25 171.67
L 336.29 165.64
L 363.33 161.57
L 390.37 156.52
" clip-path="url(#p1bebfb066a)" style="fill: none; stroke: #00bfbf; stroke-width: 1.5; stroke-linecap: square"/>
<g clip-path="url(#p1bebfb066a)">
<path d="M 0 -3.1 L -3.1 3.1 L 3.1 3.1 z" transform="translate(65.91 274.35)" style="fill: #00bfbf; stroke: #00bfbf; stroke-linejoin: miter"/>
<path d="M 0 -3.1 L -3.1 3.1 L 3.1 3.1 z" transform="translate(92.94 251.89)" style="fill: #00bfbf; stroke: #00bfbf; stroke-linejoin: miter"/>
<path d="M 0 -3.1 L -3.1 3.1 L 3.1 3.1 z" transform="translate(119.98 233.87)" style="fill: #00bfbf; stroke: #00bfbf; stroke-linejoin: miter"/>
<path d="M 0 -3.1 L -3.1 3.1 L 3.1 3.1 z" transform="translate(147.02 221.43)" style="fill: #00bfbf; stroke: #00bfbf; stroke-linejoin: miter"/>
<path d="M 0 -3.1 L -3.1 3.1 L 3.1 3.1 z" transform="translate(174.06 209.97)" style="fill: #00bfbf; stroke: #00bfbf; stroke-linejoin: miter"/>
<path d="M 0 -3.1 L -3.1 3.1 L 3.1 3.1 z" transform="translate(201.1 197.45)" style="fill: #00bfbf; stroke: #00bfbf; stroke-linejoin: miter"/>
<path d="M 0 -3.1 L -3.1 3.1 L 3.1 3.1 z" transform="translate(228.14 194.29)" style="fill: #00bfbf; stroke: #00bfbf; stroke-linejoin: miter"/>
<path d="M 0 -3.1 L -3.1 3.1 L 3.1 3.1 z" transform="translate(255.18 185.69)" style="fill: #00bfbf; stroke: #00bfbf; stroke-linejoin: miter"/>
<path d="M 0 -3.1 L -3.1 3.1 L 3.1 3.1 z" transform="translate(282.21 178.15)" style="fill: #00bfbf; stroke: #00bfbf; stroke-linejoin: miter"/>
<path d="M 0 -3.1 L -3.1 3.1 L 3.1 3.1 z" transform="translate(309.25 171.67)" style="fill: #00bfbf; stroke: #00bfbf; stroke-linejoin: miter"/>
<path d="M 0 -3.1 L -3.1 3.1 L 3.1 3.1 z" transform="translate(336.29 165.64)" style="fill: #00bfbf; stroke: #00bfbf; stroke-linejoin: miter"/>
<path d="M 0 -3.1 L -3.1 3.1 L 3.1 3.1 z" transform="translate(363.33 161.57)" style="fill: #00bfbf; stroke: #00bfbf; stroke-linejoin: miter"/>
<path d="M 0 -3.1 L -3.1 3.1 L 3.1 3.1 z" transform="translate(390.37 156.51)" style="fill: #00bfbf; stroke: #00bfbf; stroke-linejoin: miter"/>
</g>
</g>
<g id="patch_3">
<path d="M 49.68 286.72
L 49.68 20.36
" style="fill: none; stroke: #000000; stroke-linejoin: miter; stroke-linecap: square"/>
</g>
<g id="patch_4">
<path d="M 406.59 286.72
L 406.59 20.36
" style="fill: none; stroke: #000000; stroke-linejoin: miter; stroke-linecap: square"/>
</g>
<g id="patch_5">
<path d="M 49.68 286.72
L 406.59 286.72
" style="fill: none; stroke: #000000; stroke-linejoin: miter; stroke-linecap: square"/>
</g>
<g id="patch_6">
<path d="M 49.68 20.36
L 406.59 20.36
" style="fill: none; stroke: #000000; stroke-linejoin: miter; stroke-linecap: square"/>
</g>
<g id="text_11">
<text style="font-size: 12px; font-family: 'DejaVu Sans', 'Liberation Sans', sans-serif; text-anchor: middle" x="228.14" y="14.59" transform="rotate(-0 228.14 14.59)">parse &amp; update entries &amp; dump @ 100</text>
</g>
</g>
</g>
<defs>
<clipPath id="p1bebfb066a">
<rect x="49.68" y="20.36" width="356.91" height="266.36"/>
</clipPath>
</defs>
</svg>

</body></html>
